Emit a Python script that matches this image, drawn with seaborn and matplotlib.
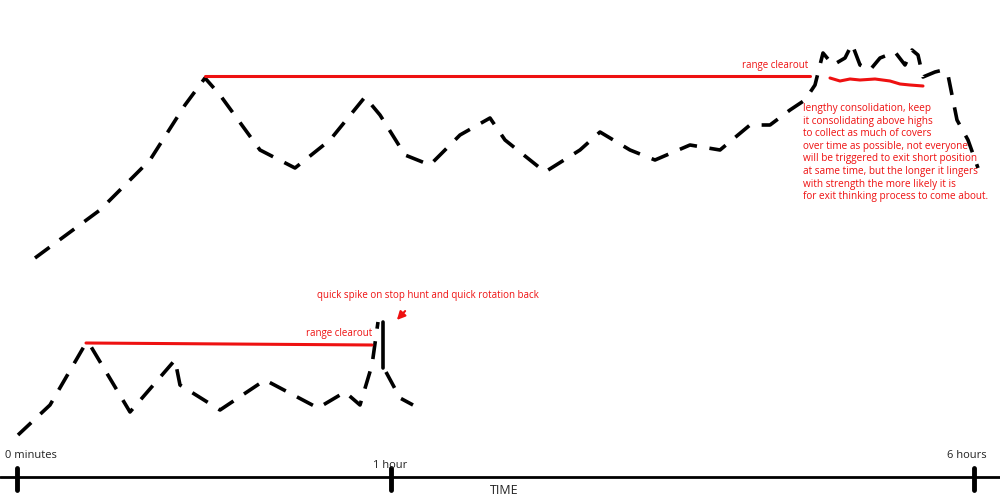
import matplotlib.pyplot as plt
import seaborn as sns
import pandas as pd

sns.set_theme(style="white")
plt.rcParams['font.family'] = ['Open Sans', 'DejaVu Sans']

# hand-drawn price path, long consolidation (pixel-like coordinates)
top_x = [35, 100, 150, 185, 205, 220, 260, 295, 330, 365, 380, 405, 430, 460, 490, 505,
         545, 580, 600, 630, 655, 690, 720, 750, 770, 790, 805, 815, 823, 833, 845, 852,
         860, 870, 880, 895, 905, 912, 918, 923, 935, 943, 948, 957, 968, 978]
top_y = [258, 210, 160, 105, 78, 95, 150, 168, 140, 97, 115, 155, 165, 135, 118, 140,
         172, 150, 132, 150, 160, 145, 150, 125, 125, 110, 100, 85, 53, 65, 58, 44,
         65, 70, 58, 52, 65, 50, 55, 77, 72, 70, 75, 120, 140, 168]

# quick spike path
bot_x = [18, 50, 86, 90, 130, 175, 180, 220, 265, 318, 345, 360, 372, 378]
bot_y = [435, 405, 343, 345, 412, 360, 385, 410, 380, 408, 392, 405, 365, 322]
spike_x = [383, 383]
spike_y = [322, 368]
tail_x = [386, 400, 413]
tail_y = [372, 398, 405]

cons_x = [830, 840, 850, 860, 875, 890, 900, 910, 923]
cons_y = [78, 81, 79, 80, 79, 81, 84, 85, 86]

note_lines = ["lengthy consolidation, keep",
              "it consolidating above highs",
              "to collect as much of covers",
              "over time as possible, not everyone",
              "will be triggered to exit short position",
              "at same time, but the longer it lingers",
              "with strength the more likely it is",
              "for exit thinking process to come about."]

tick_x = [17, 391, 974]
tick_labels = ["0 minutes", "1 hour", "6 hours"]

fig = plt.figure(figsize=(10, 4.96), dpi=100)
ax = fig.add_axes([0, 0, 1, 1])
ax.set_xlim(0, 1000)
ax.set_ylim(496, 0)
ax.axis('off')

dash = (0, (5, 3.5))
sns.lineplot(data=pd.DataFrame({'x': top_x, 'y': top_y}), x='x', y='y', ax=ax,
             color='black', lw=2.6, linestyle=dash, sort=False, estimator=None)
sns.lineplot(data=pd.DataFrame({'x': bot_x, 'y': bot_y}), x='x', y='y', ax=ax,
             color='black', lw=2.6, linestyle=dash, sort=False, estimator=None)
sns.lineplot(x=spike_x, y=spike_y, ax=ax, color='black', lw=2.6, sort=False, estimator=None)
sns.lineplot(x=tail_x, y=tail_y, ax=ax, color='black', lw=2.6, linestyle=dash,
             sort=False, estimator=None)
sns.lineplot(x=cons_x, y=cons_y, ax=ax, color='#ee1111', lw=2.2, sort=False, estimator=None)

red = '#ee1111'
ax.plot([205, 810], [76, 76], color=red, lw=2.2)
ax.plot([86, 372], [343, 345], color=red, lw=2.2)
ax.text(742, 68, "range clearout", color=red, fontsize=7)
ax.text(372, 336, "range clearout", color=red, fontsize=7, ha='right')
ax.text(428, 298, "quick spike on stop hunt and quick rotation back",
        color=red, fontsize=7, ha='center')
ax.annotate("", xy=(395, 322), xytext=(407, 309),
            arrowprops=dict(arrowstyle='-|>', color=red, lw=1.5))
for i, line in enumerate(note_lines):
    ax.text(803, 111 + i * 12.6, line, color=red, fontsize=7.2)

# time axis
ax.plot([0, 1000], [477, 477], color='black', lw=2)
for x, lab in zip(tick_x, tick_labels):
    ax.plot([x, x], [468, 490], color='black', lw=3.5)
ax.text(5, 456, tick_labels[0], fontsize=8, color='#222222', va='center')
ax.text(390, 466, tick_labels[1], fontsize=8, color='#222222', va='center', ha='center')
ax.text(967, 455, tick_labels[2], fontsize=8, color='#222222', va='center', ha='center')
ax.text(504, 490, "TIME", fontsize=9, color='#222222', va='center', ha='center')

fig.savefig('out.png')
